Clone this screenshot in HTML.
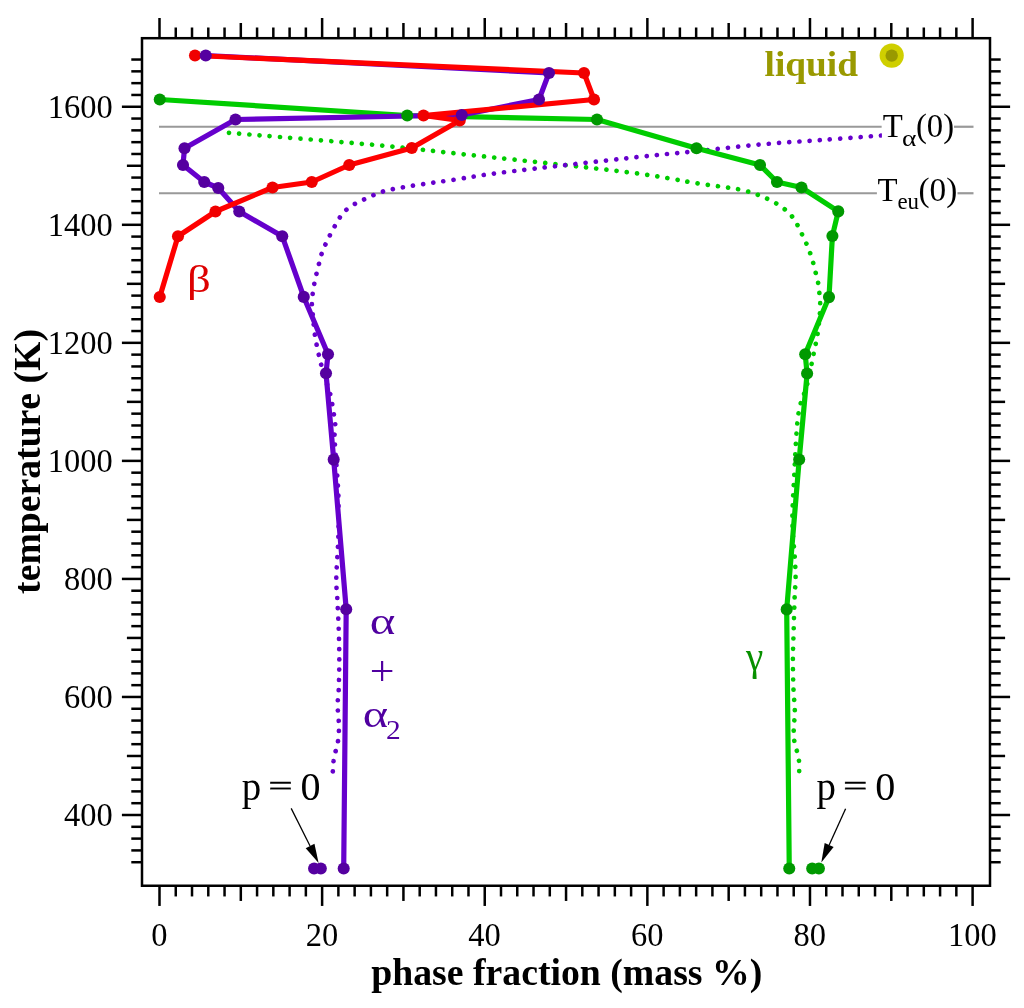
<!DOCTYPE html><html><head><meta charset="utf-8"><title>phase fraction</title>
<style>html,body{margin:0;padding:0;background:#fff}svg{display:block}text{font-family:"Liberation Serif","DejaVu Serif",serif;font-kerning:none}</style></head><body>
<svg width="1024" height="1008" viewBox="0 0 1024 1008">
<rect width="1024" height="1008" fill="#fff"/>
<g stroke="#999" stroke-width="2.2">
<line x1="159" y1="126.75" x2="881.7" y2="126.75"/><line x1="954" y1="126.75" x2="973.5" y2="126.75"/>
<line x1="159" y1="193.25" x2="876.9" y2="193.25"/><line x1="957.5" y1="193.25" x2="973.5" y2="193.25"/>
</g>
<path d="M229.00,132.80 C254.33,134.92 343.27,142.07 381.00,145.50 C418.73,148.93 414.57,148.98 455.40,153.40 C496.23,157.82 585.73,167.03 626.00,172.00 C666.27,176.97 678.29,180.38 697.00,183.25 C715.71,186.12 728.04,187.29 738.25,189.25 C748.46,191.21 753.25,193.33 758.25,195.00 C763.25,196.67 764.83,197.58 768.25,199.25 C771.67,200.92 775.29,202.71 778.75,205.00 C782.21,207.29 786.17,210.17 789.00,213.00 C791.83,215.83 793.75,218.78 795.75,222.00 C797.75,225.22 799.29,228.85 801.00,232.30 C802.71,235.75 804.48,239.25 806.00,242.70 C807.52,246.15 808.88,249.57 810.10,253.00 C811.32,256.43 812.33,259.87 813.30,263.30 C814.27,266.73 815.07,270.20 815.90,273.60 C816.73,277.00 817.72,280.42 818.30,283.70 C818.88,286.98 819.08,289.98 819.40,293.30 C819.72,296.62 820.13,300.15 820.20,303.60 C820.27,307.05 820.25,308.88 819.80,314.00 C819.35,319.12 818.55,327.57 817.50,334.30 C816.45,341.03 815.25,345.95 813.50,354.40 C811.75,362.85 809.55,374.82 807.00,385.00 C804.45,395.18 800.37,399.67 798.20,415.50 C796.03,431.33 794.97,462.25 794.00,480.00 C793.03,497.75 792.27,509.05 792.40,522.00 C792.53,534.95 794.27,548.37 794.80,557.70 C795.33,567.03 795.63,571.28 795.60,578.00 C795.57,584.72 794.92,589.50 794.60,598.00 C794.28,606.50 793.98,618.67 793.70,629.00 C793.42,639.33 792.93,649.88 792.90,660.00 C792.87,670.12 793.18,681.30 793.50,689.70 C793.82,698.10 794.77,703.62 794.80,710.40 C794.83,717.18 793.80,725.42 793.70,730.40 C793.60,735.38 793.68,736.93 794.20,740.30 C794.72,743.67 796.00,747.15 796.80,750.60 C797.60,754.05 798.60,757.52 799.00,761.00 C799.40,764.48 799.17,769.75 799.20,771.50" fill="none" stroke="#00cc00" stroke-width="4.7" stroke-linecap="round" stroke-dasharray="0.01 10.2372"/>
<path d="M881.00,135.50 C870.96,136.25 840.92,138.50 820.75,140.00 C800.58,141.50 780.42,142.67 760.00,144.50 C739.58,146.33 718.54,148.92 698.25,151.00 C677.96,153.08 670.29,153.50 638.25,157.00 C606.21,160.50 536.48,168.25 506.00,172.00 C475.52,175.75 470.65,177.27 455.40,179.50 C440.15,181.73 424.82,183.82 414.50,185.40 C404.18,186.98 398.65,188.02 393.50,189.00 C388.35,189.98 386.83,190.32 383.60,191.30 C380.37,192.28 377.40,193.52 374.10,194.90 C370.80,196.28 367.23,197.97 363.80,199.60 C360.37,201.23 356.90,202.55 353.50,204.70 C350.10,206.85 346.15,209.57 343.40,212.50 C340.65,215.43 339.02,218.95 337.00,222.30 C334.98,225.65 333.07,229.25 331.30,232.60 C329.53,235.95 327.95,239.05 326.40,242.40 C324.85,245.75 323.20,249.27 322.00,252.70 C320.80,256.13 320.10,259.57 319.20,263.00 C318.30,266.43 317.42,269.85 316.60,273.30 C315.78,276.75 314.95,280.33 314.30,283.70 C313.65,287.07 313.10,290.15 312.70,293.50 C312.30,296.85 311.90,300.38 311.90,303.80 C311.90,307.22 312.22,308.93 312.70,314.00 C313.18,319.07 313.82,327.53 314.80,334.20 C315.78,340.87 317.07,347.20 318.60,354.00 C320.13,360.80 322.03,368.17 324.00,375.00 C325.97,381.83 328.72,388.22 330.40,395.00 C332.08,401.78 333.28,410.53 334.10,415.70 C334.92,420.87 335.23,422.62 335.30,426.00 C335.37,429.38 334.55,432.67 334.50,436.00 C334.45,439.33 334.53,439.20 335.00,446.00 C335.47,452.80 336.72,467.80 337.30,476.80 C337.88,485.80 338.33,489.88 338.50,500.00 C338.67,510.12 338.67,524.50 338.30,537.50 C337.93,550.50 336.47,567.85 336.30,578.00 C336.13,588.15 336.90,589.90 337.30,598.40 C337.70,606.90 338.37,618.90 338.70,629.00 C339.03,639.10 339.30,648.90 339.30,659.00 C339.30,669.10 338.98,681.93 338.70,689.60 C338.42,697.27 337.60,699.85 337.60,705.00 C337.60,710.15 338.48,716.27 338.70,720.50 C338.92,724.73 339.00,727.05 338.90,730.40 C338.80,733.75 338.63,737.18 338.10,740.60 C337.57,744.02 336.47,747.48 335.70,750.90 C334.93,754.32 333.98,757.62 333.50,761.10 C333.02,764.58 332.92,770.02 332.80,771.80" fill="none" stroke="#6600cc" stroke-width="4.7" stroke-linecap="round" stroke-dasharray="0.01 10.2237"/>
<g fill="none" stroke-width="5.2" stroke-linejoin="round" stroke-linecap="round">
<path d="M159.75,99.50 L407.25,115.50 L597.00,119.50 L696.50,148.25 L760.00,165.00 L777.00,182.00 L801.50,187.50 L838.25,211.40 L832.40,236.00 L829.00,297.10 L805.20,354.20 L807.10,373.50 L799.20,459.50 L786.70,609.40 L789.25,868.50" stroke="#00cc00"/>
<path d="M205.75,55.50 L549.00,73.00 L539.00,99.50 L461.75,115.00 L235.50,119.50 L184.50,148.25 L183.00,165.00 L204.25,182.00 L218.25,188.00 L239.25,211.50 L282.25,236.25 L303.75,296.90 L328.00,354.30 L326.00,373.25 L333.70,459.60 L346.20,609.30 L343.70,868.50" stroke="#6600cc"/>
<path d="M195.00,55.50 L584.00,73.00 L594.00,99.50 L423.50,115.50 L459.75,120.50 L411.75,148.00 L349.25,165.00 L311.75,182.00 L272.50,187.50 L215.50,211.50 L178.00,236.25 L159.75,297.00" stroke="#ff0000"/>
</g>
<g fill="#009900"><circle cx="159.75" cy="99.50" r="6.05"/><circle cx="407.25" cy="115.50" r="6.05"/><circle cx="597.00" cy="119.50" r="6.05"/><circle cx="696.50" cy="148.25" r="6.05"/><circle cx="760.00" cy="165.00" r="6.05"/><circle cx="777.00" cy="182.00" r="6.05"/><circle cx="801.50" cy="187.50" r="6.05"/><circle cx="838.25" cy="211.40" r="6.05"/><circle cx="832.40" cy="236.00" r="6.05"/><circle cx="829.00" cy="297.10" r="6.05"/><circle cx="805.20" cy="354.20" r="6.05"/><circle cx="807.10" cy="373.50" r="6.05"/><circle cx="799.20" cy="459.50" r="6.05"/><circle cx="786.70" cy="609.40" r="6.05"/><circle cx="789.25" cy="868.50" r="6.05"/><circle cx="812.20" cy="868.50" r="6.05"/><circle cx="818.90" cy="868.50" r="6.05"/></g>
<g fill="#f00000"><circle cx="195.00" cy="55.50" r="6.05"/><circle cx="584.00" cy="73.00" r="6.05"/><circle cx="594.00" cy="99.50" r="6.05"/><circle cx="423.50" cy="115.50" r="6.05"/><circle cx="459.75" cy="120.50" r="6.05"/><circle cx="411.75" cy="148.00" r="6.05"/><circle cx="349.25" cy="165.00" r="6.05"/><circle cx="311.75" cy="182.00" r="6.05"/><circle cx="272.50" cy="187.50" r="6.05"/><circle cx="215.50" cy="211.50" r="6.05"/><circle cx="178.00" cy="236.25" r="6.05"/><circle cx="159.75" cy="297.00" r="6.05"/></g>
<g fill="#5500a0"><circle cx="205.75" cy="55.50" r="6.05"/><circle cx="549.00" cy="73.00" r="6.05"/><circle cx="539.00" cy="99.50" r="6.05"/><circle cx="461.75" cy="115.00" r="6.05"/><circle cx="235.50" cy="119.50" r="6.05"/><circle cx="184.50" cy="148.25" r="6.05"/><circle cx="183.00" cy="165.00" r="6.05"/><circle cx="204.25" cy="182.00" r="6.05"/><circle cx="218.25" cy="188.00" r="6.05"/><circle cx="239.25" cy="211.50" r="6.05"/><circle cx="282.25" cy="236.25" r="6.05"/><circle cx="303.75" cy="296.90" r="6.05"/><circle cx="328.00" cy="354.30" r="6.05"/><circle cx="326.00" cy="373.25" r="6.05"/><circle cx="333.70" cy="459.60" r="6.05"/><circle cx="346.20" cy="609.30" r="6.05"/><circle cx="343.70" cy="868.50" r="6.05"/><circle cx="314.10" cy="868.50" r="6.05"/><circle cx="320.80" cy="868.50" r="6.05"/></g>
<circle cx="891.7" cy="55.6" r="12.1" fill="#cfcf00"/><circle cx="891.7" cy="55.6" r="6.2" fill="#999900"/>
<g stroke="#000" stroke-width="2.5" fill="none" stroke-linecap="butt">
<rect x="142.0" y="38.2" width="848.0" height="847.55"/>
<line x1="159.50" y1="885.75" x2="159.50" y2="905.95"/>
<line x1="159.50" y1="38.2" x2="159.50" y2="18.000000000000004"/>
<line x1="175.76" y1="885.75" x2="175.76" y2="896.45"/>
<line x1="175.76" y1="38.2" x2="175.76" y2="27.500000000000004"/>
<line x1="192.02" y1="885.75" x2="192.02" y2="896.45"/>
<line x1="192.02" y1="38.2" x2="192.02" y2="27.500000000000004"/>
<line x1="208.29" y1="885.75" x2="208.29" y2="896.45"/>
<line x1="208.29" y1="38.2" x2="208.29" y2="27.500000000000004"/>
<line x1="224.55" y1="885.75" x2="224.55" y2="896.45"/>
<line x1="224.55" y1="38.2" x2="224.55" y2="27.500000000000004"/>
<line x1="240.81" y1="885.75" x2="240.81" y2="900.95"/>
<line x1="240.81" y1="38.2" x2="240.81" y2="23.000000000000004"/>
<line x1="257.07" y1="885.75" x2="257.07" y2="896.45"/>
<line x1="257.07" y1="38.2" x2="257.07" y2="27.500000000000004"/>
<line x1="273.33" y1="885.75" x2="273.33" y2="896.45"/>
<line x1="273.33" y1="38.2" x2="273.33" y2="27.500000000000004"/>
<line x1="289.60" y1="885.75" x2="289.60" y2="896.45"/>
<line x1="289.60" y1="38.2" x2="289.60" y2="27.500000000000004"/>
<line x1="305.86" y1="885.75" x2="305.86" y2="896.45"/>
<line x1="305.86" y1="38.2" x2="305.86" y2="27.500000000000004"/>
<line x1="322.12" y1="885.75" x2="322.12" y2="905.95"/>
<line x1="322.12" y1="38.2" x2="322.12" y2="18.000000000000004"/>
<line x1="338.38" y1="885.75" x2="338.38" y2="896.45"/>
<line x1="338.38" y1="38.2" x2="338.38" y2="27.500000000000004"/>
<line x1="354.64" y1="885.75" x2="354.64" y2="896.45"/>
<line x1="354.64" y1="38.2" x2="354.64" y2="27.500000000000004"/>
<line x1="370.91" y1="885.75" x2="370.91" y2="896.45"/>
<line x1="370.91" y1="38.2" x2="370.91" y2="27.500000000000004"/>
<line x1="387.17" y1="885.75" x2="387.17" y2="896.45"/>
<line x1="387.17" y1="38.2" x2="387.17" y2="27.500000000000004"/>
<line x1="403.43" y1="885.75" x2="403.43" y2="900.95"/>
<line x1="403.43" y1="38.2" x2="403.43" y2="23.000000000000004"/>
<line x1="419.69" y1="885.75" x2="419.69" y2="896.45"/>
<line x1="419.69" y1="38.2" x2="419.69" y2="27.500000000000004"/>
<line x1="435.95" y1="885.75" x2="435.95" y2="896.45"/>
<line x1="435.95" y1="38.2" x2="435.95" y2="27.500000000000004"/>
<line x1="452.22" y1="885.75" x2="452.22" y2="896.45"/>
<line x1="452.22" y1="38.2" x2="452.22" y2="27.500000000000004"/>
<line x1="468.48" y1="885.75" x2="468.48" y2="896.45"/>
<line x1="468.48" y1="38.2" x2="468.48" y2="27.500000000000004"/>
<line x1="484.74" y1="885.75" x2="484.74" y2="905.95"/>
<line x1="484.74" y1="38.2" x2="484.74" y2="18.000000000000004"/>
<line x1="501.00" y1="885.75" x2="501.00" y2="896.45"/>
<line x1="501.00" y1="38.2" x2="501.00" y2="27.500000000000004"/>
<line x1="517.26" y1="885.75" x2="517.26" y2="896.45"/>
<line x1="517.26" y1="38.2" x2="517.26" y2="27.500000000000004"/>
<line x1="533.53" y1="885.75" x2="533.53" y2="896.45"/>
<line x1="533.53" y1="38.2" x2="533.53" y2="27.500000000000004"/>
<line x1="549.79" y1="885.75" x2="549.79" y2="896.45"/>
<line x1="549.79" y1="38.2" x2="549.79" y2="27.500000000000004"/>
<line x1="566.05" y1="885.75" x2="566.05" y2="900.95"/>
<line x1="566.05" y1="38.2" x2="566.05" y2="23.000000000000004"/>
<line x1="582.31" y1="885.75" x2="582.31" y2="896.45"/>
<line x1="582.31" y1="38.2" x2="582.31" y2="27.500000000000004"/>
<line x1="598.57" y1="885.75" x2="598.57" y2="896.45"/>
<line x1="598.57" y1="38.2" x2="598.57" y2="27.500000000000004"/>
<line x1="614.84" y1="885.75" x2="614.84" y2="896.45"/>
<line x1="614.84" y1="38.2" x2="614.84" y2="27.500000000000004"/>
<line x1="631.10" y1="885.75" x2="631.10" y2="896.45"/>
<line x1="631.10" y1="38.2" x2="631.10" y2="27.500000000000004"/>
<line x1="647.36" y1="885.75" x2="647.36" y2="905.95"/>
<line x1="647.36" y1="38.2" x2="647.36" y2="18.000000000000004"/>
<line x1="663.62" y1="885.75" x2="663.62" y2="896.45"/>
<line x1="663.62" y1="38.2" x2="663.62" y2="27.500000000000004"/>
<line x1="679.88" y1="885.75" x2="679.88" y2="896.45"/>
<line x1="679.88" y1="38.2" x2="679.88" y2="27.500000000000004"/>
<line x1="696.15" y1="885.75" x2="696.15" y2="896.45"/>
<line x1="696.15" y1="38.2" x2="696.15" y2="27.500000000000004"/>
<line x1="712.41" y1="885.75" x2="712.41" y2="896.45"/>
<line x1="712.41" y1="38.2" x2="712.41" y2="27.500000000000004"/>
<line x1="728.67" y1="885.75" x2="728.67" y2="900.95"/>
<line x1="728.67" y1="38.2" x2="728.67" y2="23.000000000000004"/>
<line x1="744.93" y1="885.75" x2="744.93" y2="896.45"/>
<line x1="744.93" y1="38.2" x2="744.93" y2="27.500000000000004"/>
<line x1="761.19" y1="885.75" x2="761.19" y2="896.45"/>
<line x1="761.19" y1="38.2" x2="761.19" y2="27.500000000000004"/>
<line x1="777.46" y1="885.75" x2="777.46" y2="896.45"/>
<line x1="777.46" y1="38.2" x2="777.46" y2="27.500000000000004"/>
<line x1="793.72" y1="885.75" x2="793.72" y2="896.45"/>
<line x1="793.72" y1="38.2" x2="793.72" y2="27.500000000000004"/>
<line x1="809.98" y1="885.75" x2="809.98" y2="905.95"/>
<line x1="809.98" y1="38.2" x2="809.98" y2="18.000000000000004"/>
<line x1="826.24" y1="885.75" x2="826.24" y2="896.45"/>
<line x1="826.24" y1="38.2" x2="826.24" y2="27.500000000000004"/>
<line x1="842.50" y1="885.75" x2="842.50" y2="896.45"/>
<line x1="842.50" y1="38.2" x2="842.50" y2="27.500000000000004"/>
<line x1="858.77" y1="885.75" x2="858.77" y2="896.45"/>
<line x1="858.77" y1="38.2" x2="858.77" y2="27.500000000000004"/>
<line x1="875.03" y1="885.75" x2="875.03" y2="896.45"/>
<line x1="875.03" y1="38.2" x2="875.03" y2="27.500000000000004"/>
<line x1="891.29" y1="885.75" x2="891.29" y2="900.95"/>
<line x1="891.29" y1="38.2" x2="891.29" y2="23.000000000000004"/>
<line x1="907.55" y1="885.75" x2="907.55" y2="896.45"/>
<line x1="907.55" y1="38.2" x2="907.55" y2="27.500000000000004"/>
<line x1="923.81" y1="885.75" x2="923.81" y2="896.45"/>
<line x1="923.81" y1="38.2" x2="923.81" y2="27.500000000000004"/>
<line x1="940.08" y1="885.75" x2="940.08" y2="896.45"/>
<line x1="940.08" y1="38.2" x2="940.08" y2="27.500000000000004"/>
<line x1="956.34" y1="885.75" x2="956.34" y2="896.45"/>
<line x1="956.34" y1="38.2" x2="956.34" y2="27.500000000000004"/>
<line x1="972.60" y1="885.75" x2="972.60" y2="905.95"/>
<line x1="972.60" y1="38.2" x2="972.60" y2="18.000000000000004"/>
<line x1="142.0" y1="862.22" x2="131.3" y2="862.22"/>
<line x1="990.0" y1="862.22" x2="1000.7" y2="862.22"/>
<line x1="142.0" y1="850.41" x2="131.3" y2="850.41"/>
<line x1="990.0" y1="850.41" x2="1000.7" y2="850.41"/>
<line x1="142.0" y1="838.61" x2="131.3" y2="838.61"/>
<line x1="990.0" y1="838.61" x2="1000.7" y2="838.61"/>
<line x1="142.0" y1="826.80" x2="131.3" y2="826.80"/>
<line x1="990.0" y1="826.80" x2="1000.7" y2="826.80"/>
<line x1="142.0" y1="815.00" x2="121.9" y2="815.00"/>
<line x1="990.0" y1="815.00" x2="1010.1" y2="815.00"/>
<line x1="142.0" y1="803.20" x2="131.3" y2="803.20"/>
<line x1="990.0" y1="803.20" x2="1000.7" y2="803.20"/>
<line x1="142.0" y1="791.39" x2="131.3" y2="791.39"/>
<line x1="990.0" y1="791.39" x2="1000.7" y2="791.39"/>
<line x1="142.0" y1="779.59" x2="131.3" y2="779.59"/>
<line x1="990.0" y1="779.59" x2="1000.7" y2="779.59"/>
<line x1="142.0" y1="767.78" x2="131.3" y2="767.78"/>
<line x1="990.0" y1="767.78" x2="1000.7" y2="767.78"/>
<line x1="142.0" y1="755.98" x2="126.9" y2="755.98"/>
<line x1="990.0" y1="755.98" x2="1005.1" y2="755.98"/>
<line x1="142.0" y1="744.18" x2="131.3" y2="744.18"/>
<line x1="990.0" y1="744.18" x2="1000.7" y2="744.18"/>
<line x1="142.0" y1="732.37" x2="131.3" y2="732.37"/>
<line x1="990.0" y1="732.37" x2="1000.7" y2="732.37"/>
<line x1="142.0" y1="720.57" x2="131.3" y2="720.57"/>
<line x1="990.0" y1="720.57" x2="1000.7" y2="720.57"/>
<line x1="142.0" y1="708.76" x2="131.3" y2="708.76"/>
<line x1="990.0" y1="708.76" x2="1000.7" y2="708.76"/>
<line x1="142.0" y1="696.96" x2="121.9" y2="696.96"/>
<line x1="990.0" y1="696.96" x2="1010.1" y2="696.96"/>
<line x1="142.0" y1="685.16" x2="131.3" y2="685.16"/>
<line x1="990.0" y1="685.16" x2="1000.7" y2="685.16"/>
<line x1="142.0" y1="673.35" x2="131.3" y2="673.35"/>
<line x1="990.0" y1="673.35" x2="1000.7" y2="673.35"/>
<line x1="142.0" y1="661.55" x2="131.3" y2="661.55"/>
<line x1="990.0" y1="661.55" x2="1000.7" y2="661.55"/>
<line x1="142.0" y1="649.74" x2="131.3" y2="649.74"/>
<line x1="990.0" y1="649.74" x2="1000.7" y2="649.74"/>
<line x1="142.0" y1="637.94" x2="126.9" y2="637.94"/>
<line x1="990.0" y1="637.94" x2="1005.1" y2="637.94"/>
<line x1="142.0" y1="626.14" x2="131.3" y2="626.14"/>
<line x1="990.0" y1="626.14" x2="1000.7" y2="626.14"/>
<line x1="142.0" y1="614.33" x2="131.3" y2="614.33"/>
<line x1="990.0" y1="614.33" x2="1000.7" y2="614.33"/>
<line x1="142.0" y1="602.53" x2="131.3" y2="602.53"/>
<line x1="990.0" y1="602.53" x2="1000.7" y2="602.53"/>
<line x1="142.0" y1="590.72" x2="131.3" y2="590.72"/>
<line x1="990.0" y1="590.72" x2="1000.7" y2="590.72"/>
<line x1="142.0" y1="578.92" x2="121.9" y2="578.92"/>
<line x1="990.0" y1="578.92" x2="1010.1" y2="578.92"/>
<line x1="142.0" y1="567.12" x2="131.3" y2="567.12"/>
<line x1="990.0" y1="567.12" x2="1000.7" y2="567.12"/>
<line x1="142.0" y1="555.31" x2="131.3" y2="555.31"/>
<line x1="990.0" y1="555.31" x2="1000.7" y2="555.31"/>
<line x1="142.0" y1="543.51" x2="131.3" y2="543.51"/>
<line x1="990.0" y1="543.51" x2="1000.7" y2="543.51"/>
<line x1="142.0" y1="531.70" x2="131.3" y2="531.70"/>
<line x1="990.0" y1="531.70" x2="1000.7" y2="531.70"/>
<line x1="142.0" y1="519.90" x2="126.9" y2="519.90"/>
<line x1="990.0" y1="519.90" x2="1005.1" y2="519.90"/>
<line x1="142.0" y1="508.10" x2="131.3" y2="508.10"/>
<line x1="990.0" y1="508.10" x2="1000.7" y2="508.10"/>
<line x1="142.0" y1="496.29" x2="131.3" y2="496.29"/>
<line x1="990.0" y1="496.29" x2="1000.7" y2="496.29"/>
<line x1="142.0" y1="484.49" x2="131.3" y2="484.49"/>
<line x1="990.0" y1="484.49" x2="1000.7" y2="484.49"/>
<line x1="142.0" y1="472.68" x2="131.3" y2="472.68"/>
<line x1="990.0" y1="472.68" x2="1000.7" y2="472.68"/>
<line x1="142.0" y1="460.88" x2="121.9" y2="460.88"/>
<line x1="990.0" y1="460.88" x2="1010.1" y2="460.88"/>
<line x1="142.0" y1="449.08" x2="131.3" y2="449.08"/>
<line x1="990.0" y1="449.08" x2="1000.7" y2="449.08"/>
<line x1="142.0" y1="437.27" x2="131.3" y2="437.27"/>
<line x1="990.0" y1="437.27" x2="1000.7" y2="437.27"/>
<line x1="142.0" y1="425.47" x2="131.3" y2="425.47"/>
<line x1="990.0" y1="425.47" x2="1000.7" y2="425.47"/>
<line x1="142.0" y1="413.66" x2="131.3" y2="413.66"/>
<line x1="990.0" y1="413.66" x2="1000.7" y2="413.66"/>
<line x1="142.0" y1="401.86" x2="126.9" y2="401.86"/>
<line x1="990.0" y1="401.86" x2="1005.1" y2="401.86"/>
<line x1="142.0" y1="390.06" x2="131.3" y2="390.06"/>
<line x1="990.0" y1="390.06" x2="1000.7" y2="390.06"/>
<line x1="142.0" y1="378.25" x2="131.3" y2="378.25"/>
<line x1="990.0" y1="378.25" x2="1000.7" y2="378.25"/>
<line x1="142.0" y1="366.45" x2="131.3" y2="366.45"/>
<line x1="990.0" y1="366.45" x2="1000.7" y2="366.45"/>
<line x1="142.0" y1="354.64" x2="131.3" y2="354.64"/>
<line x1="990.0" y1="354.64" x2="1000.7" y2="354.64"/>
<line x1="142.0" y1="342.84" x2="121.9" y2="342.84"/>
<line x1="990.0" y1="342.84" x2="1010.1" y2="342.84"/>
<line x1="142.0" y1="331.04" x2="131.3" y2="331.04"/>
<line x1="990.0" y1="331.04" x2="1000.7" y2="331.04"/>
<line x1="142.0" y1="319.23" x2="131.3" y2="319.23"/>
<line x1="990.0" y1="319.23" x2="1000.7" y2="319.23"/>
<line x1="142.0" y1="307.43" x2="131.3" y2="307.43"/>
<line x1="990.0" y1="307.43" x2="1000.7" y2="307.43"/>
<line x1="142.0" y1="295.62" x2="131.3" y2="295.62"/>
<line x1="990.0" y1="295.62" x2="1000.7" y2="295.62"/>
<line x1="142.0" y1="283.82" x2="126.9" y2="283.82"/>
<line x1="990.0" y1="283.82" x2="1005.1" y2="283.82"/>
<line x1="142.0" y1="272.02" x2="131.3" y2="272.02"/>
<line x1="990.0" y1="272.02" x2="1000.7" y2="272.02"/>
<line x1="142.0" y1="260.21" x2="131.3" y2="260.21"/>
<line x1="990.0" y1="260.21" x2="1000.7" y2="260.21"/>
<line x1="142.0" y1="248.41" x2="131.3" y2="248.41"/>
<line x1="990.0" y1="248.41" x2="1000.7" y2="248.41"/>
<line x1="142.0" y1="236.60" x2="131.3" y2="236.60"/>
<line x1="990.0" y1="236.60" x2="1000.7" y2="236.60"/>
<line x1="142.0" y1="224.80" x2="121.9" y2="224.80"/>
<line x1="990.0" y1="224.80" x2="1010.1" y2="224.80"/>
<line x1="142.0" y1="213.00" x2="131.3" y2="213.00"/>
<line x1="990.0" y1="213.00" x2="1000.7" y2="213.00"/>
<line x1="142.0" y1="201.19" x2="131.3" y2="201.19"/>
<line x1="990.0" y1="201.19" x2="1000.7" y2="201.19"/>
<line x1="142.0" y1="189.39" x2="131.3" y2="189.39"/>
<line x1="990.0" y1="189.39" x2="1000.7" y2="189.39"/>
<line x1="142.0" y1="177.58" x2="131.3" y2="177.58"/>
<line x1="990.0" y1="177.58" x2="1000.7" y2="177.58"/>
<line x1="142.0" y1="165.78" x2="126.9" y2="165.78"/>
<line x1="990.0" y1="165.78" x2="1005.1" y2="165.78"/>
<line x1="142.0" y1="153.98" x2="131.3" y2="153.98"/>
<line x1="990.0" y1="153.98" x2="1000.7" y2="153.98"/>
<line x1="142.0" y1="142.17" x2="131.3" y2="142.17"/>
<line x1="990.0" y1="142.17" x2="1000.7" y2="142.17"/>
<line x1="142.0" y1="130.37" x2="131.3" y2="130.37"/>
<line x1="990.0" y1="130.37" x2="1000.7" y2="130.37"/>
<line x1="142.0" y1="118.56" x2="131.3" y2="118.56"/>
<line x1="990.0" y1="118.56" x2="1000.7" y2="118.56"/>
<line x1="142.0" y1="106.76" x2="121.9" y2="106.76"/>
<line x1="990.0" y1="106.76" x2="1010.1" y2="106.76"/>
<line x1="142.0" y1="94.96" x2="131.3" y2="94.96"/>
<line x1="990.0" y1="94.96" x2="1000.7" y2="94.96"/>
<line x1="142.0" y1="83.15" x2="131.3" y2="83.15"/>
<line x1="990.0" y1="83.15" x2="1000.7" y2="83.15"/>
<line x1="142.0" y1="71.35" x2="131.3" y2="71.35"/>
<line x1="990.0" y1="71.35" x2="1000.7" y2="71.35"/>
<line x1="142.0" y1="59.54" x2="131.3" y2="59.54"/>
<line x1="990.0" y1="59.54" x2="1000.7" y2="59.54"/>
</g>
<text transform="matrix(0.3250 0 0 0.3430 151.18 945.70)" font-size="100" fill="#000">0</text>
<text transform="matrix(0.3250 0 0 0.3430 305.67 945.70)" font-size="100" fill="#000">20</text>
<text transform="matrix(0.3250 0 0 0.3430 468.29 945.70)" font-size="100" fill="#000">40</text>
<text transform="matrix(0.3250 0 0 0.3430 630.91 945.70)" font-size="100" fill="#000">60</text>
<text transform="matrix(0.3250 0 0 0.3430 793.53 945.70)" font-size="100" fill="#000">80</text>
<text transform="matrix(0.3250 0 0 0.3430 948.02 945.70)" font-size="100" fill="#000">100</text>
<text transform="matrix(0.3250 0 0 0.3430 64.04 825.95)" font-size="100" fill="#000">400</text>
<text transform="matrix(0.3250 0 0 0.3430 64.04 707.91)" font-size="100" fill="#000">600</text>
<text transform="matrix(0.3250 0 0 0.3430 64.04 589.87)" font-size="100" fill="#000">800</text>
<text transform="matrix(0.3250 0 0 0.3430 47.79 471.83)" font-size="100" fill="#000">1000</text>
<text transform="matrix(0.3250 0 0 0.3430 47.79 353.79)" font-size="100" fill="#000">1200</text>
<text transform="matrix(0.3250 0 0 0.3430 47.79 235.75)" font-size="100" fill="#000">1400</text>
<text transform="matrix(0.3250 0 0 0.3430 47.79 117.71)" font-size="100" fill="#000">1600</text>
<text transform="matrix(0.3777 0 0 0.3730 371.22 985.30)" font-size="100" fill="#000" font-weight="bold">phase fraction (mass %)</text>
<text transform="translate(39.7,593.3) rotate(-90) matrix(0.3771 0 0 0.373 -0.61 0)" font-size="100" font-weight="bold">temperature (K)</text>
<text transform="matrix(0.3735 0 0 0.3560 764.57 75.65)" font-size="100" fill="#999900" font-weight="bold">liquid</text>
<text transform="matrix(0.4678 0 0 0.3762 186.88 291.89)" font-size="100" fill="#dd0000">β</text>
<text transform="matrix(0.3913 0 0 0.4048 746.01 670.48)" font-size="100" fill="#089000">γ</text>
<text transform="matrix(0.4877 0 0 0.3832 369.74 634.18)" font-size="100" fill="#5000a0">α</text>
<text transform="matrix(0.4384 0 0 0.4208 369.82 684.57)" font-size="100" fill="#5000a0">+</text>
<text fill="#5000a0"><tspan x="362.76" y="726.54" font-size="37.18" textLength="25.33" lengthAdjust="spacingAndGlyphs">α</tspan><tspan x="386.11" y="739.30" font-size="27.03" textLength="14.72" lengthAdjust="spacingAndGlyphs">2</tspan></text>
<text fill="#000"><tspan x="241.77" y="799.60" font-size="39.30" textLength="19.45" lengthAdjust="spacingAndGlyphs">p</tspan> <tspan x="268.34" y="796.20" font-size="30.00" textLength="24.48" lengthAdjust="spacingAndGlyphs" stroke="#000" stroke-width="0.35">=</tspan> <tspan x="300.47" y="799.60" font-size="39.30" textLength="20.05" lengthAdjust="spacingAndGlyphs">0</tspan></text>
<text fill="#000"><tspan x="816.47" y="799.60" font-size="39.30" textLength="19.45" lengthAdjust="spacingAndGlyphs">p</tspan> <tspan x="843.04" y="796.20" font-size="30.00" textLength="24.48" lengthAdjust="spacingAndGlyphs" stroke="#000" stroke-width="0.35">=</tspan> <tspan x="875.17" y="799.60" font-size="39.30" textLength="20.05" lengthAdjust="spacingAndGlyphs">0</tspan></text>
<rect x="881.9" y="110" width="72" height="40" fill="#fff"/>
<text fill="#000"><tspan x="882.71" y="136.70" font-size="33.40" textLength="20.04" lengthAdjust="spacingAndGlyphs">T</tspan><tspan x="902.06" y="146.48" font-size="22.85" textLength="14.36" lengthAdjust="spacingAndGlyphs">α</tspan><tspan x="915.96" y="136.90" font-size="33.60" textLength="38.13" lengthAdjust="spacingAndGlyphs">(0)</tspan></text>
<text fill="#000"><tspan x="877.51" y="200.60" font-size="33.40" textLength="20.04" lengthAdjust="spacingAndGlyphs">T</tspan><tspan x="897.41" y="209.10" font-size="22.30" textLength="21.58" lengthAdjust="spacingAndGlyphs">eu</tspan><tspan x="918.54" y="200.80" font-size="33.60" textLength="38.83" lengthAdjust="spacingAndGlyphs">(0)</tspan></text>
<line x1="291.2" y1="808.4" x2="310.08" y2="846.02" stroke="#000" stroke-width="1.3"/><polygon points="318.6,863.0 305.70,848.22 314.46,843.82" fill="#000"/>
<line x1="845.6" y1="808.8" x2="829.15" y2="845.10" stroke="#000" stroke-width="1.3"/><polygon points="821.3,862.4 824.68,843.07 833.61,847.12" fill="#000"/>
</svg></body></html>
